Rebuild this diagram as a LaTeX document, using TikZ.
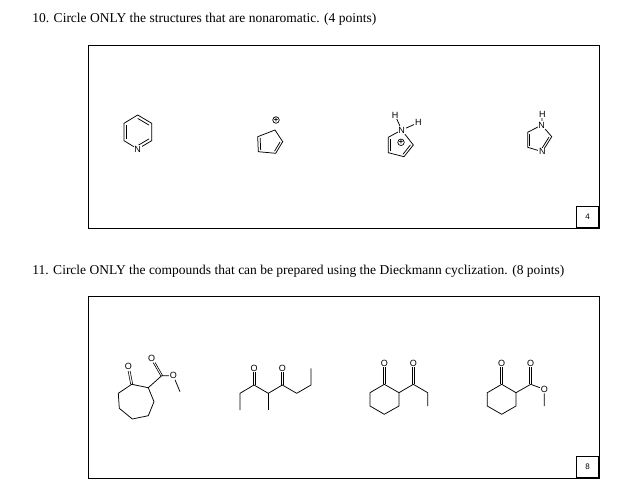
\documentclass[tikz,border=0pt]{standalone}
\usepackage{fontspec}
\setmainfont{Liberation Serif}
\newfontfamily\atomf{Liberation Sans}
\usetikzlibrary{calc}
\begin{document}
\begin{tikzpicture}[x=1pt,y=-1pt,line width=0.75pt,
  atom/.style={font=\atomf\fontsize{9}{9}\selectfont,inner sep=0.6pt,fill=white},
  frame/.style={draw,line width=0.6pt},
  chg/.style={draw,circle,inner sep=0pt,minimum size=6.5pt,line width=0.7pt,font=\atomf\fontsize{7.5}{7.5}\selectfont\bfseries},
  pts/.style={draw,line width=0.6pt,font=\atomf\fontsize{8}{8}\selectfont,minimum width=22pt,minimum height=21pt,anchor=south east,inner sep=0pt}]
\newcommand\inner[3]{\draw ($(#1)!0.2!(#3)$) -- ($(#2)!0.2!(#3)$);}
\newcommand\dbond[2]{\draw[line width=0.6pt,transform canvas={xshift=-1pt}] (#1)--(#2);\draw[line width=0.6pt,transform canvas={xshift=1pt}] (#1)--(#2);}
\useasboundingbox (0,0) rectangle (626,497);
\node[anchor=base west,font=\fontsize{13.5}{15}\selectfont,inner sep=0pt] (t1) at (32,23) {10. Circle ONLY the structures that are nonaromatic. (4 points)};
\node[anchor=base west,font=\fontsize{13.5}{15}\selectfont,inner sep=0pt] (t2) at (32,274) {11. Circle ONLY the compounds that can be prepared using the Dieckmann cyclization. (8 points)};
\draw[frame] (88,45) rectangle (599,228);
\node[pts] (p1) at (599,228) {4};
\draw[frame] (88,296) rectangle (599,478);
\node[pts] (p2) at (599,478) {8};
% pyridine
\coordinate (a1) at (137.7,115); \coordinate (a2) at (151.7,123.3); \coordinate (a3) at (151.7,140.7);
\coordinate (a5) at (124,140.7); \coordinate (a6) at (124,123.3); \coordinate (ac) at (137.7,132);
\draw (a1)--(a2)--(a3)--(137.7,149)--(a5)--(a6)--cycle;
\inner{a1}{a2}{ac}\inner{a5}{a6}{ac}\inner{a3}{137.7,149}{ac}
\node[atom] (aN) at (137.7,149) {N};
% cyclopentadienyl cation
\coordinate (b1) at (275,130); \coordinate (b2) at (282.7,141.7); \coordinate (b3) at (275.7,153.3);
\coordinate (b4) at (258.3,151.7); \coordinate (b5) at (257.7,136.7); \coordinate (bc) at (270,142.5);
\draw (b1)--(b2)--(b3)--(b4)--(b5)--cycle;
\inner{b2}{b3}{bc}\inner{b4}{b5}{bc}
\node[chg] (bp) at (276,120) {+};
% pyrrolium
\coordinate (c1) at (401.7,130); \coordinate (c2) at (413.3,145); \coordinate (c3) at (404,156.7);
\coordinate (c4) at (388.3,152.7); \coordinate (c5) at (388.3,137.3); \coordinate (cc) at (399,144.5);
\draw (c1)--(c2)--(c3)--(c4)--(c5)--cycle;
\inner{c2}{c3}{cc}\inner{c4}{c5}{cc}
\node[atom] (cN) at (c1) {N};
\node[atom] (cH1) at (395,115) {H};
\node[atom] (cH2) at (418.3,122.7) {H};
\draw (cN)--(cH1); \draw (cN)--(cH2);
\node[chg] (cp) at (401,142.3) {+};
% imidazole
\coordinate (d1) at (541.7,125); \coordinate (d2) at (551.7,136.7); \coordinate (d3) at (542.3,151.7);
\coordinate (d4) at (527.7,147.3); \coordinate (d5) at (527.7,132.3); \coordinate (dc) at (538,139);
\draw (d1)--(d2)--(d3)--(d4)--(d5)--cycle;
\inner{d2}{d3}{dc}\inner{d4}{d5}{dc}
\node[atom] (dN1) at (d1) {N}; \node[atom] (dN3) at (d3) {N};
\node[atom] (dH) at (542.3,114) {H}; \draw (dN1)--(dH);
% compound 1: cycloheptanone ester
\coordinate (e1) at (131.7,384.3); \coordinate (e2) at (148.3,387.7); \coordinate (e3) at (154,401.7);
\coordinate (e4) at (148.3,415.7); \coordinate (e5) at (132.3,419); \coordinate (e6) at (119.3,408.3); \coordinate (e7) at (118.3,393.3);
\draw (e1)--(e2)--(e3)--(e4)--(e5)--(e6)--(e7)--cycle;
\node[atom] (eO1) at (128.3,366.7) {O}; \dbond{e1}{eO1}
\coordinate (e8) at (161.7,375.7); \draw (e2)--(e8);
\node[atom] (eO2) at (151.7,358.3) {O}; \dbond{e8}{eO2}
\node[atom] (eO3) at (173.3,375.7) {O}; \coordinate (e9) at (180,391.7);
\draw (e8)--(eO3)--(e9);
% compound 2: diketone
\coordinate (f1) at (240,410); \coordinate (f2) at (240,393.3); \coordinate (f3) at (254,385);
\coordinate (f4) at (268.3,393.3); \coordinate (f5) at (268.3,410); \coordinate (f6) at (282.3,385);
\coordinate (f7) at (296.7,393.3); \coordinate (f8) at (311,385); \coordinate (f9) at (311,368.3);
\draw (f1)--(f2)--(f3)--(f4)--(f6)--(f7)--(f8)--(f9); \draw (f4)--(f5);
\node[atom] (fO1) at (254,368.3) {O}; \dbond{f3}{fO1}
\node[atom] (fO2) at (282.3,368.3) {O}; \dbond{f6}{fO2}
% compound 3
\coordinate (g1) at (384.3,384.3); \coordinate (g2) at (399,392.7); \coordinate (g3) at (399,406);
\coordinate (g4) at (384.3,414.3); \coordinate (g5) at (370,406); \coordinate (g6) at (370,392.7);
\draw (g1)--(g2)--(g3)--(g4)--(g5)--(g6)--cycle;
\node[atom] (gO1) at (384.3,363.3) {O}; \dbond{g1}{gO1}
\coordinate (g7) at (413.3,384.3); \coordinate (g8) at (427.7,392.7); \coordinate (g9) at (427.7,406);
\draw (g2)--(g7)--(g8)--(g9);
\node[atom] (gO2) at (413.3,363.3) {O}; \dbond{g7}{gO2}
% compound 4
\coordinate (h1) at (501.7,384.3); \coordinate (h2) at (516,392.7); \coordinate (h3) at (516,406);
\coordinate (h4) at (501.7,414.3); \coordinate (h5) at (487.3,406); \coordinate (h6) at (487.3,392.7);
\draw (h1)--(h2)--(h3)--(h4)--(h5)--(h6)--cycle;
\node[atom] (hO1) at (501.7,363.3) {O}; \dbond{h1}{hO1}
\coordinate (h7) at (530.7,384.3); \draw (h2)--(h7);
\node[atom] (hO2) at (530.7,363.3) {O}; \dbond{h7}{hO2}
\node[atom] (hO3) at (544.3,389.3) {O}; \coordinate (h9) at (544.3,406);
\draw (h7)--(hO3)--(h9);
\end{tikzpicture}
\end{document}
